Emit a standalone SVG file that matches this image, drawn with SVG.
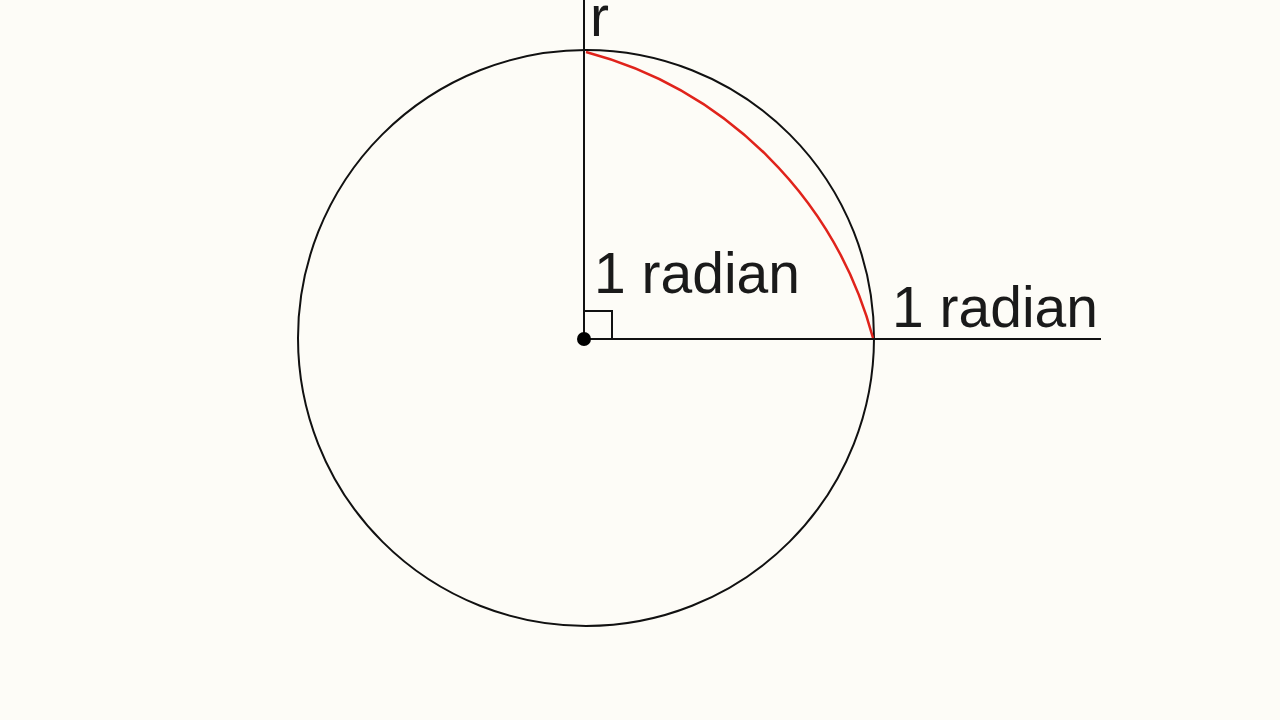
<svg xmlns="http://www.w3.org/2000/svg" width="1280" height="720" viewBox="0 0 1280 720">
<style>
.ln{fill:none;stroke:#111;stroke-width:2}
.lbl{font-family:"Liberation Sans",Arial,sans-serif;font-size:57px;fill:#1a1a1a}
</style>
<rect width="1280" height="720" fill="#fdfcf7"/>
<g id="circle"><circle cx="586" cy="338" r="288" class="ln"/></g>
<g id="connectors">
<line x1="584" y1="0" x2="584" y2="339" class="ln"/>
<line x1="584" y1="339" x2="1101" y2="339" class="ln"/>
<polyline points="584,311 612,311 612,339" class="ln"/>
<path d="M586,52 A405,405 0 0 1 873,338" fill="none" stroke="#e0231b" stroke-width="2.5"/>
</g>
<g id="center"><circle cx="584" cy="339" r="7" fill="#000"/></g>
<g id="labels">
<text x="590" y="36" class="lbl">r</text>
<text x="594" y="293" class="lbl">1 radian</text>
<text x="892" y="327" class="lbl">1 radian</text>
</g>
</svg>
